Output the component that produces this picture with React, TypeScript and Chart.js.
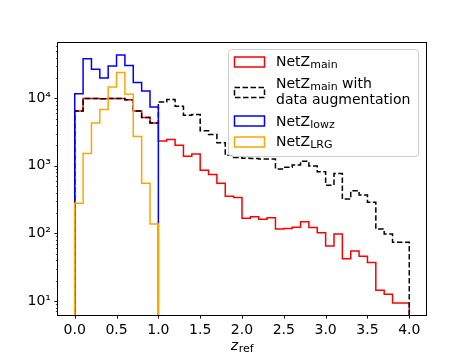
import React, { useEffect, useRef } from 'react';
import { Chart, registerables } from 'chart.js';

Chart.register(...registerables);

// ---- data ----
const BIN_START = 0;
const BIN_WIDTH = 0.1;
const FLOOR = 1; // below the axis minimum: outline starts at the bottom of the axes

const netzMain = [6490, 9900, 9900, 9800, 9900, 9900, 9500, 6490, 5190, 4310,
  2320, 2460, 2020, 1390, 1490, 863, 746, 550, 356, 341,
  167, 177, 162, 170, 116, 118, 123, 149, 122, 102,
  65, 98, 42, 55, 46, 37, 14.4, 12.6, 9.3, 9.3];
const netzAug = [6490, 9900, 9900, 9800, 9900, 9900, 9500, 6490, 5190, 4310,
  8820, 9560, 7620, 5610, 5740, 3290, 2910, 2190, 1430, 1330,
  1290, 1280, 1260, 1260, 900, 950, 1030, 1170, 990, 815,
  518, 772, 322, 427, 369, 288, 116, 98, 74, 74];
const netzLowz = [11700, 38500, 26800, 20000, 30000, 43600, 30400, 17100, 12800, 7440];
const netzLRG = [279, 1520, 4310, 6810, 14700, 24000, 11500, 2720, 550, 138];

const X_TICKS = [0, 0.5, 1, 1.5, 2, 2.5, 3, 3.5, 4];
const Y_MAJOR = [10, 100, 1000, 10000];
const Y_LABELS = ['10\u00b9', '10\u00b2', '10\u00b3', '10\u2074'];
const X_MIN = -0.2, X_MAX = 4.2;
const Y_MIN = 6.2, Y_MAX = 65700;

const LEGEND = [
  { color: '#ff0000', dash: [] as number[], lines: [['NetZ', 'main', '']] },
  { color: '#000000', dash: [5.5, 2.5], lines: [['NetZ', 'main', ' with'], ['data augmentation', '', '']] },
  { color: '#0000ff', dash: [] as number[], lines: [['NetZ', 'lowz', '']] },
  { color: '#ffa500', dash: [] as number[], lines: [['NetZ', 'LRG', '']] },
];

const FONT = '"DejaVu Sans", sans-serif';

function stepPoints(values: number[]) {
  const pts: { x: number; y: number }[] = [{ x: BIN_START, y: FLOOR }];
  values.forEach((v, i) => pts.push({ x: BIN_START + i * BIN_WIDTH, y: v }));
  const end = BIN_START + values.length * BIN_WIDTH;
  pts.push({ x: end, y: values[values.length - 1] });
  pts.push({ x: end, y: FLOOR });
  return pts;
}

function yTickValues() {
  const out: { value: number; major: boolean }[] = [];
  for (const m of [1].concat(Y_MAJOR)) {
    for (let k = 1; k <= 9; k++) {
      const val = m * k;
      if (val >= Y_MIN && val <= Y_MAX) out.push({ value: val, major: k === 1 });
    }
  }
  return out.sort((a, b) => a.value - b.value);
}

const decorPlugin = {
  id: 'decor',
  afterDraw(chart: any) {
    const { ctx, chartArea } = chart;
    const { left, right, top, bottom } = chartArea;
    const xs = chart.scales.x;
    const ys = chart.scales.y;
    ctx.save();
    // ticks
    ctx.strokeStyle = '#000';
    xs.ticks.forEach((t: any) => {
      const x = Math.round(xs.getPixelForValue(t.value)) + 0.5;
      ctx.lineWidth = 0.9;
      ctx.beginPath();
      ctx.moveTo(x, bottom);
      ctx.lineTo(x, bottom + 3.6);
      ctx.stroke();
    });
    ys.ticks.forEach((t: any) => {
      const y = Math.round(ys.getPixelForValue(t.value)) + 0.5;
      ctx.lineWidth = t.major ? 0.9 : 0.7;
      ctx.beginPath();
      ctx.moveTo(left, y);
      ctx.lineTo(left - (t.major ? 3.6 : 2.1), y);
      ctx.stroke();
    });
    // frame
    ctx.lineWidth = 1;
    ctx.strokeRect(Math.round(left) - 0.5, Math.round(top) - 0.5, Math.round(right - left) + 1, Math.round(bottom - top) + 1);

    // x axis title: z_ref
    ctx.fillStyle = '#000';
    ctx.textBaseline = 'alphabetic';
    ctx.textAlign = 'left';
    ctx.font = `italic 14px ${FONT}`;
    const wz = ctx.measureText('z').width;
    ctx.font = `11px ${FONT}`;
    const wr = ctx.measureText('ref').width;
    const cx = (left + right) / 2;
    const x0 = cx - (wz + wr) / 2;
    ctx.font = `italic 14px ${FONT}`;
    ctx.fillText('z', x0, 349.5);
    ctx.font = `11px ${FONT}`;
    ctx.fillText('ref', x0 + wz + 0.5, 351.5);

    // legend
    const bx = 228.5, by = 49.5, bw = 190, bh = 107, r = 3;
    ctx.beginPath();
    ctx.moveTo(bx + r, by);
    ctx.lineTo(bx + bw - r, by);
    ctx.arcTo(bx + bw, by, bx + bw, by + r, r);
    ctx.lineTo(bx + bw, by + bh - r);
    ctx.arcTo(bx + bw, by + bh, bx + bw - r, by + bh, r);
    ctx.lineTo(bx + r, by + bh);
    ctx.arcTo(bx, by + bh, bx, by + bh - r, r);
    ctx.lineTo(bx, by + r);
    ctx.arcTo(bx, by, bx + r, by, r);
    ctx.closePath();
    ctx.fillStyle = 'rgba(255,255,255,0.8)';
    ctx.fill();
    ctx.strokeStyle = '#cccccc';
    ctx.lineWidth = 1;
    ctx.stroke();

    const handleCenters = [62, 92.5, 121, 142];
    const baselines = [[66], [88, 103.5], [126], [146]];
    LEGEND.forEach((item, i) => {
      ctx.strokeStyle = item.color;
      ctx.lineWidth = 1.5;
      ctx.setLineDash(item.dash);
      ctx.strokeRect(234.5, handleCenters[i] - 5, 30, 10);
      ctx.setLineDash([]);
      ctx.fillStyle = '#000';
      item.lines.forEach((ln, j) => {
        const base = baselines[i][j];
        let x = 276;
        ctx.font = `14px ${FONT}`;
        ctx.fillText(ln[0], x, base);
        x += ctx.measureText(ln[0]).width;
        if (ln[1]) {
          ctx.font = `11px ${FONT}`;
          ctx.fillText(ln[1], x, base + 1.8);
          x += ctx.measureText(ln[1]).width;
        }
        if (ln[2]) {
          ctx.font = `14px ${FONT}`;
          ctx.fillText(ln[2], x, base);
        }
      });
    });
    ctx.restore();
  },
};

export default function App() {
  const ref = useRef<HTMLCanvasElement>(null);
  useEffect(() => {
    if (!ref.current) return;
    const ds = (label: string, values: number[], color: string, order: number, dash: number[] = []) => ({
      label,
      data: stepPoints(values),
      borderColor: color,
      backgroundColor: color,
      borderWidth: 1.5,
      borderDash: dash,
      stepped: 'before' as const,
      fill: false,
      pointRadius: 0,
      order,
    });
    const chart = new Chart(ref.current, {
      type: 'line',
      data: {
        datasets: [
          ds('NetZ main', netzMain, '#ff0000', 4),
          ds('NetZ main with data augmentation', netzAug, '#000000', 3, [5.5, 2.5]),
          ds('NetZ lowz', netzLowz, '#0000ff', 2),
          ds('NetZ LRG', netzLRG, '#ffa500', 1),
        ],
      },
      options: {
        animation: false,
        responsive: false,
        maintainAspectRatio: false,
        devicePixelRatio: 1,
        layout: { padding: { left: 0, right: 48, top: 43, bottom: 0 } },
        plugins: { legend: { display: false }, tooltip: { enabled: false }, title: { display: false } },
        scales: {
          x: {
            type: 'linear',
            min: X_MIN,
            max: X_MAX,
            afterBuildTicks: (s: any) => { s.ticks = X_TICKS.map((v) => ({ value: v })); },
            afterFit: (s: any) => { s.height = 41; },
            grid: { display: true, drawOnChartArea: false, drawTicks: true, tickLength: 3.6, tickColor: 'rgba(0,0,0,0)' },
            border: { display: false },
            ticks: {
              autoSkip: false,
              maxRotation: 0,
              padding: 3.5,
              color: '#000',
              font: { family: FONT, size: 14 },
              callback: (v: any) => Number(v).toFixed(1),
            },
          },
          y: {
            type: 'logarithmic',
            min: Y_MIN,
            max: Y_MAX,
            afterBuildTicks: (s: any) => { s.ticks = yTickValues(); },
            afterFit: (s: any) => { s.width = 58; },
            grid: { display: true, drawOnChartArea: false, drawTicks: true, tickLength: 3.6, tickColor: 'rgba(0,0,0,0)' },
            border: { display: false },
            ticks: {
              autoSkip: false,
              padding: 3.5,
              color: '#000',
              font: { family: FONT, size: 14 },
              callback: (v: any) => {
                const idx = Y_MAJOR.indexOf(Number(v));
                return idx >= 0 ? Y_LABELS[idx] : '';
              },
            },
          },
        },
      },
      plugins: [decorPlugin],
    } as any);
    return () => chart.destroy();
  }, []);
  return (
    <div style={{ position: 'fixed', left: 0, top: 0, width: 474, height: 356, background: '#fff' }}>
      <canvas ref={ref} width={474} height={356} style={{ display: 'block', width: 474, height: 356 }} />
    </div>
  );
}
